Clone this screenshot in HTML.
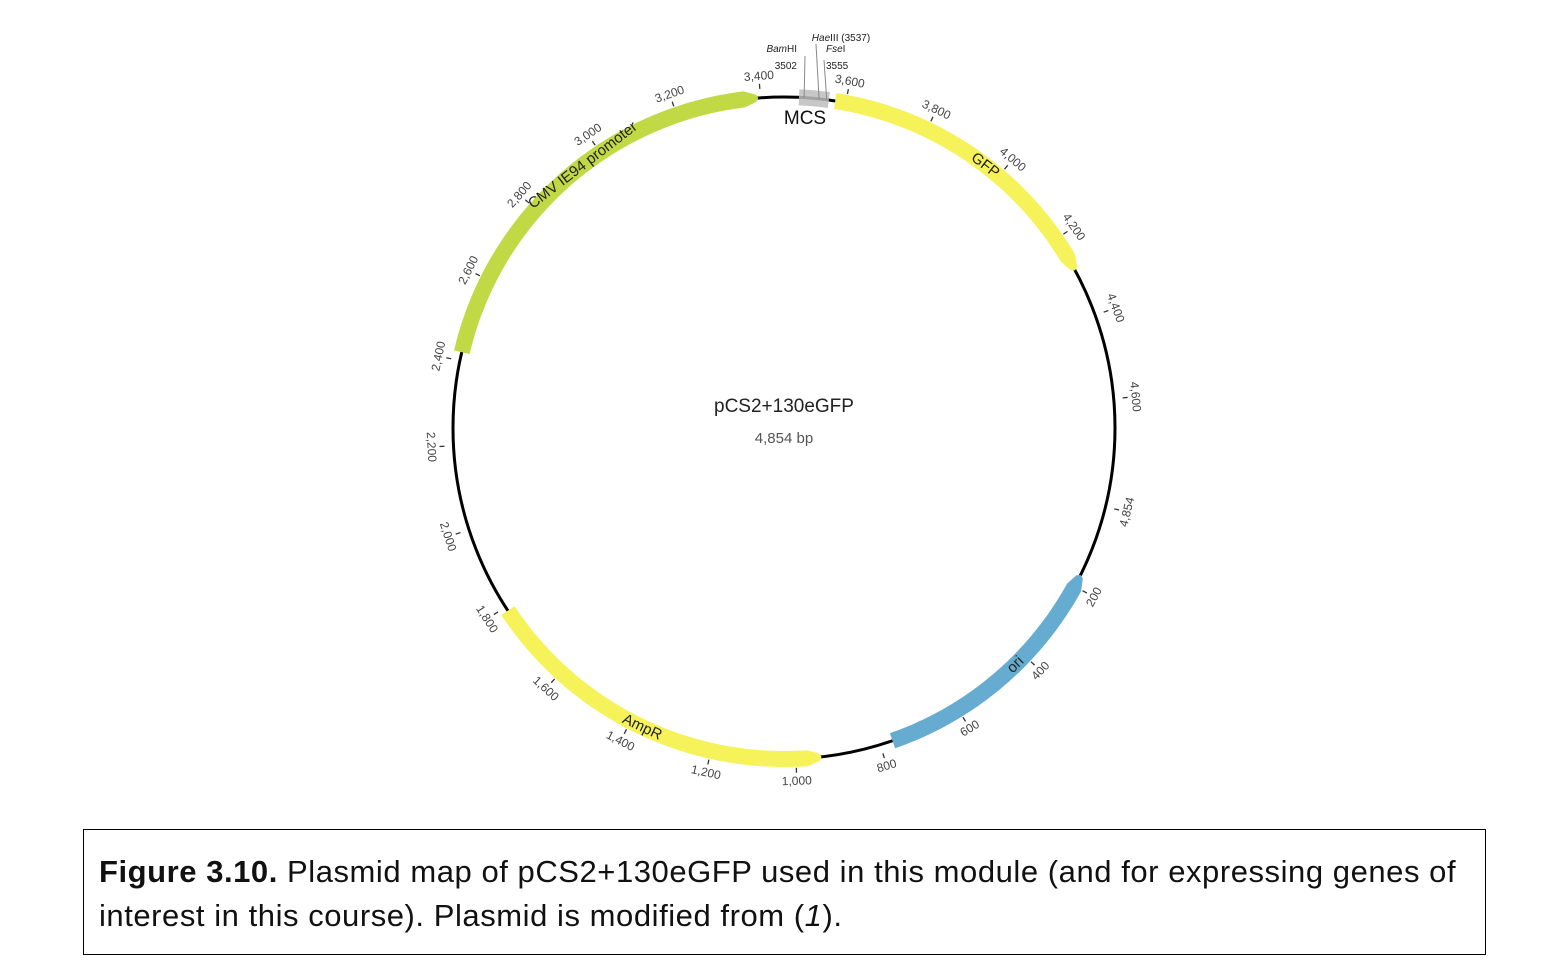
<!DOCTYPE html>
<html><head><meta charset="utf-8"><style>
body{margin:0;background:#fff;width:1562px;height:980px;overflow:hidden;font-family:"Liberation Sans",sans-serif}
#cap{position:absolute;left:83px;top:829px;width:1403px;height:126px;border:1.5px solid #000;box-sizing:border-box;padding:20px 15px;font-size:31px;line-height:44px;color:#111;letter-spacing:0.55px;white-space:nowrap}
</style></head><body>
<svg id="map" width="1562" height="830" style="position:absolute;left:0;top:0"></svg>
<div id="cap"><b>Figure 3.10.</b> Plasmid map of pCS2+130eGFP used in this module (and for expressing genes of<br>interest in this course). Plasmid is modified from (<i>1</i>).</div>
<script>
const total = 4854;
const tickValues = [200,400,600,800,1000,1200,1400,1600,1800,2000,2200,2400,2600,2800,3000,3200,3400,3600,3800,4000,4200,4400,4600,4854];
const featureNames = ["CMV IE94 promoter","GFP","ori","AmpR"];
const featureStarts = [2420,3575,170,940];
const featureEnds = [3395,4285,770,1790];
const featureDirs = [1,1,-1,-1];
const featureColors = ["#c1d944","#f6f25a","#66acd0","#f6f25a"];
const featureLabelPos = [2950,3960,430,1370];
const enzymeNames = ["BamHI","HaeIII (3537)","FseI"];
const enzymePos = [3502,3537,3555];
const cx=784, cy=428, R=331, TOP=3455;
const svg=document.getElementById('map');
const NS="http://www.w3.org/2000/svg";
function ang(bp){return (bp-TOP)/total*2*Math.PI;}
function pt(bp,r){const a=ang(bp);return [cx+r*Math.sin(a),cy-r*Math.cos(a)];}
function deg(bp){let d=(bp-TOP)/total*360;d=((d%360)+360)%360;return d;}
function rot(bp){const d=deg(bp);return (d>90&&d<270)?d-180:d;}
function mk(t,attrs,parent){const e=document.createElementNS(NS,t);for(const k in attrs)e.setAttribute(k,attrs[k]);(parent||svg).appendChild(e);return e;}
const ring=mk('circle',{cx:cx,cy:cy,r:R,fill:'none',stroke:'#000','stroke-width':3});


const W=8, bpPerPx=total/(2*Math.PI*R);
function arcPts(a,b,r,n){const p=[];for(let i=0;i<=n;i++){p.push(pt(a+(b-a)*i/n,r));}return p;}
featureNames.forEach((nm,i)=>{
  const s=featureStarts[i], e=featureEnds[i], d=featureDirs[i];
  const head=14*bpPerPx;
  let pts;
  if(d>0){
    const o=arcPts(s,e-head,R+W,60), inn=arcPts(e-head,s,R-W,60);
    pts=[...o,pt(e-head*0.15,R+W*0.45),pt(e,R),pt(e-head*0.15,R-W*0.45),...inn];
  }else{
    const o=arcPts(s+head,e,R+W,60), inn=arcPts(e,s+head,R-W,60);
    pts=[...o,...inn,pt(s+head*0.15,R-W*0.45),pt(s,R),pt(s+head*0.15,R+W*0.45)];
  }
  const poly=mk('polygon',{points:pts.map(p=>p[0].toFixed(1)+','+p[1].toFixed(1)).join(' '),fill:featureColors[i]});
  
  
  const lp=pt(featureLabelPos[i],R);
  const t=mk('text',{x:lp[0],y:lp[1],'text-anchor':'middle','dominant-baseline':'central','font-size':15,fill:'#222',transform:`rotate(${rot(featureLabelPos[i])} ${lp[0]} ${lp[1]})`});
  t.textContent=nm;
  
  
});
{
  const a=3490,b=3560;
  const pts=[...arcPts(a,b,R+8,10),...arcPts(b,a,R-8,10)];
  const m=mk('polygon',{points:pts.map(p=>p.join(',')).join(' '),fill:'#bdbdbd',opacity:0.85});
  
  
  const t=mk('text',{x:805,y:124,'text-anchor':'middle','font-size':19,fill:'#111'});t.textContent='MCS';
  
  
}
const enzLabelXY=[[797,52,'end'],[840,41,'middle'],[826,56,'start']];
enzymePos.forEach((p,i)=>{
  const a=pt(p,R);const L=enzLabelXY[i];
  const ln=mk('line',{x1:a[0],y1:a[1],x2:L[0]+(i==0?8:i==2?-2:-24),y2:i==1?44:L[1]+4,stroke:'#888','stroke-width':1});
  
  
  const nm=enzymeNames[i];
  const t=mk('text',{x:i==1?841:L[0],y:i==1?41:52,'text-anchor':i==1?'middle':(i==0?'end':'start'),'font-size':10,fill:'#222'});
  const it=nm.split(' ')[0];
  if(it=='BamHI'){t.innerHTML='<tspan font-style="italic">Bam</tspan>HI';}
  else if(it=='HaeIII'){t.innerHTML='<tspan font-style="italic">Hae</tspan>III (3537)';}
  else{t.innerHTML='<tspan font-style="italic">Fse</tspan>I';}
  
  
  if(i!=1){const t2=mk('text',{x:L[0],y:69,'text-anchor':i==0?'end':'start','font-size':10,fill:'#222'});t2.textContent=String(p);
    
    }
});
tickValues.forEach(v=>{
  const a=pt(v,R+9),b=pt(v,R+14),l=pt(v,R+22);
  const tk=mk('line',{x1:a[0],y1:a[1],x2:b[0],y2:b[1],stroke:'#333','stroke-width':1.3});
  
  
  const t=mk('text',{x:l[0],y:l[1],'text-anchor':'middle','dominant-baseline':'central','font-size':12,fill:'#444',transform:`rotate(${rot(v)} ${l[0]} ${l[1]})`});
  t.textContent=v.toLocaleString('en-US');
  
  
});
const n1=mk('text',{x:784,y:412,'text-anchor':'middle','font-size':19,fill:'#222'});n1.textContent='pCS2+130eGFP';


const n2=mk('text',{x:784,y:443,'text-anchor':'middle','font-size':15,fill:'#555'});n2.textContent='4,854 bp';


</script>
</body></html>
